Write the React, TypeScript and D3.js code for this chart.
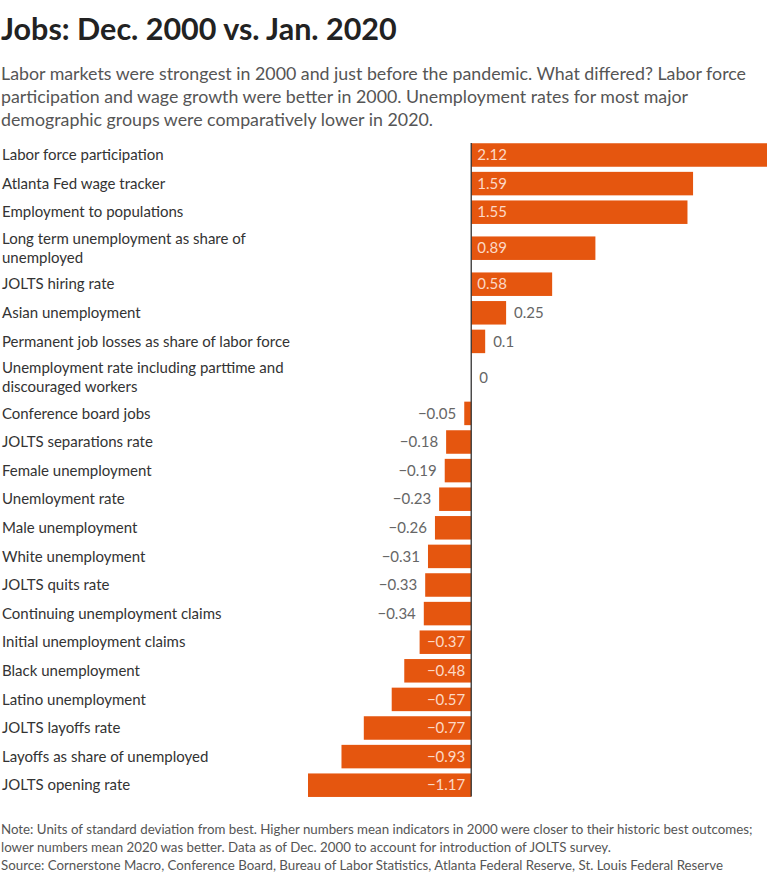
import { useEffect, useRef } from 'react';
import * as d3 from 'd3';

const categories = [
  'Labor force participation',
  'Atlanta Fed wage tracker',
  'Employment to populations',
  'Long term unemployment as share of|unemployed',
  'JOLTS hiring rate',
  'Asian unemployment',
  'Permanent job losses as share of labor force',
  'Unemployment rate including parttime and|discouraged workers',
  'Conference board jobs',
  'JOLTS separations rate',
  'Female unemployment',
  'Unemloyment rate',
  'Male unemployment',
  'White unemployment',
  'JOLTS quits rate',
  'Continuing unemployment claims',
  'Initial unemployment claims',
  'Black unemployment',
  'Latino unemployment',
  'JOLTS layoffs rate',
  'Layoffs as share of unemployed',
  'JOLTS opening rate',
];

const values = [
  2.12, 1.59, 1.55, 0.89, 0.58, 0.25, 0.1, 0, -0.05, -0.18, -0.19, -0.23,
  -0.26, -0.31, -0.33, -0.34, -0.37, -0.48, -0.57, -0.77, -0.93, -1.17,
];

const title = 'Jobs: Dec. 2000 vs. Jan. 2020';
const subtitle = [
  'Labor markets were strongest in 2000 and just before the pandemic. What differed? Labor force',
  'participation and wage growth were better in 2000. Unemployment rates for most major',
  'demographic groups were comparatively lower in 2020.',
];
const footer = [
  'Note: Units of standard deviation from best. Higher numbers mean indicators in 2000 were closer to their historic best outcomes;',
  'lower numbers mean 2020 was better. Data as of Dec. 2000 to account for introduction of JOLTS survey.',
  'Source: Cornerstone Macro, Conference Board, Bureau of Labor Statistics, Atlanta Federal Reserve, St. Louis Federal Reserve',
];

const FONT = 'Lato, "Noto Sans", sans-serif';

function App() {
  const svgRef = useRef(null);

  useEffect(() => {
    const width = 768;
    const height = 880;
    const svg = d3.select(svgRef.current);
    svg.selectAll('*').remove();
    svg.attr('width', width).attr('height', height).style('font-family', FONT);

    // Title
    svg.append('text')
      .attr('x', 1)
      .attr('y', 40)
      .attr('fill', '#222')
      .style('font-size', '30.5px')
      .style('font-weight', 'bold')
      .text(title);

    // Subtitle
    svg.append('g').selectAll('text')
      .data(subtitle)
      .join('text')
      .attr('x', 1)
      .attr('y', (d, i) => 80 + i * 23)
      .attr('fill', '#555')
      .style('font-size', '17.8px')
      .text(d => d);

    // Rows: two-line labels get a taller band
    const single = 28.6;
    const double = 43.4;
    const rows = [];
    let y = 140.7;
    categories.forEach((c, i) => {
      const lines = c.split('|');
      const h = lines.length > 1 ? double : single;
      rows.push({ lines, value: values[i], top: y, h });
      y += h;
    });
    const bottom = y;

    const x = d3.scaleLinear()
      .domain([d3.min(values), d3.max(values)])
      .range([308, 767]);

    const barH = 23.5;
    const g = svg.append('g');

    // Bars
    g.selectAll('rect')
      .data(rows)
      .join('rect')
      .attr('x', d => Math.min(x(0), x(d.value)))
      .attr('y', d => d.top + d.h / 2 - barH / 2)
      .attr('width', d => Math.abs(x(d.value) - x(0)))
      .attr('height', barH)
      .attr('fill', '#e5560f');

    // Category labels
    const labels = g.selectAll('text.cat')
      .data(rows)
      .join('text')
      .attr('class', 'cat')
      .attr('x', 2)
      .attr('fill', '#333')
      .style('font-size', '15px');
    labels.each(function (d) {
      const t = d3.select(this);
      const cy = d.top + d.h / 2;
      const n = d.lines.length;
      d.lines.forEach((l, j) => {
        t.append('tspan')
          .attr('x', 2)
          .attr('y', cy + (j - (n - 1) / 2) * 18.5)
          .attr('dy', '0.35em')
          .text(l);
      });
    });

    // Value labels, inside wide bars and outside short ones
    const fmt = v => (v < 0 ? '\u2212' + Math.abs(v) : String(v));
    g.selectAll('text.val')
      .data(rows)
      .join('text')
      .attr('class', 'val')
      .each(function (d) {
        const w = Math.abs(x(d.value) - x(0));
        const inside = w > 50;
        const t = d3.select(this);
        if (d.value >= 0) {
          t.attr('x', inside ? x(0) + 6 : x(d.value) + 8).attr('text-anchor', 'start');
        } else {
          t.attr('x', inside ? x(0) - 6 : x(d.value) - 8).attr('text-anchor', 'end');
        }
        t.attr('fill', inside ? '#fcd9c6' : '#666');
      })
      .attr('y', d => d.top + d.h / 2)
      .attr('dy', '0.35em')
      .style('font-size', '15px')
      .text(d => fmt(d.value));

    // Zero line
    g.append('line')
      .attr('x1', x(0))
      .attr('x2', x(0))
      .attr('y1', 143)
      .attr('y2', bottom - 3)
      .attr('stroke', '#333')
      .attr('stroke-width', 1.3);

    // Footer
    svg.append('g').selectAll('text')
      .data(footer)
      .join('text')
      .attr('x', 1)
      .attr('y', (d, i) => 834 + i * 18)
      .attr('fill', '#555')
      .style('font-size', '13.3px')
      .text(d => d);
  }, []);

  return (
    <div>
      <svg ref={svgRef} style={{ position: 'absolute', left: 0, top: 0 }}></svg>
    </div>
  );
}

export default App;
